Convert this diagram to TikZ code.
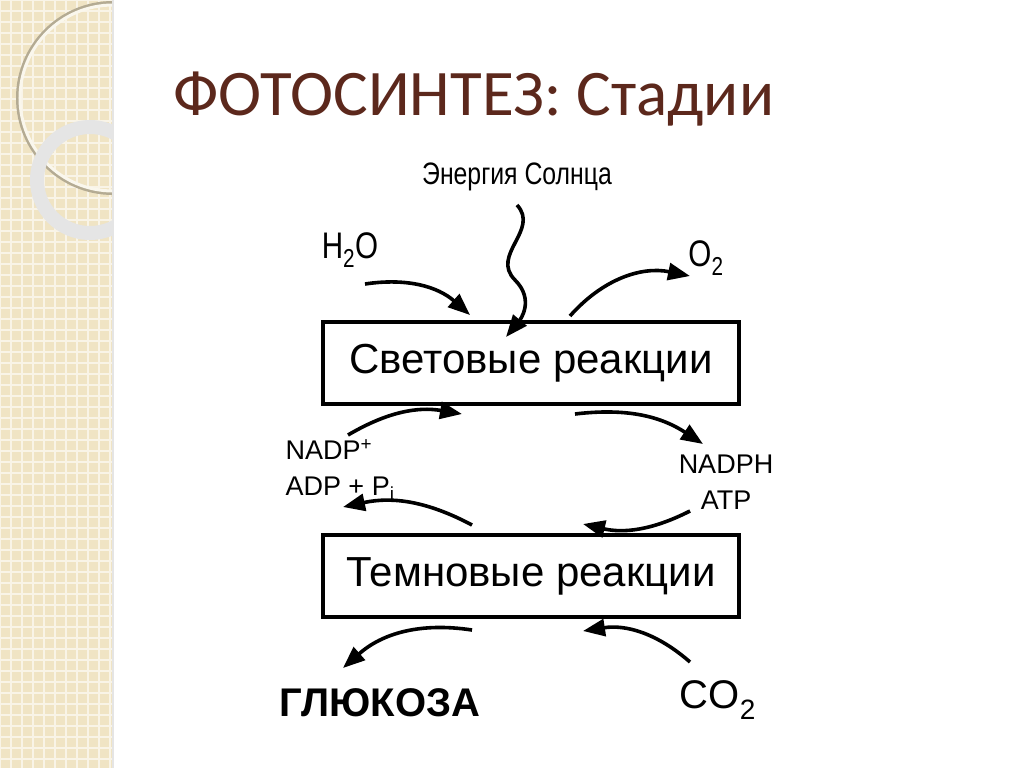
\documentclass[tikz,border=0pt]{standalone}
\usepackage{fontspec}
\setmainfont{Liberation Sans}
\newfontfamily\titlefont{Carlito}
\usetikzlibrary{arrows.meta}
\definecolor{beige}{RGB}{240,228,196}
\definecolor{titlebrown}{RGB}{92,40,28}
\tikzset{
    stage/.style={draw, line width=3.6pt, minimum width=416pt, minimum height=82pt, font=\fontsize{42}{42}\selectfont},
    chem/.style={font=\fontsize{37}{37}\selectfont\addfontfeature{FakeStretch=0.8}},
    small/.style={font=\fontsize{27}{36}\selectfont, align=left},
    flow/.style={line width=3.6pt, -{Triangle[length=22pt, width=17pt]}}
}
\begin{document}
\begin{tikzpicture}[x=1pt, y=-1pt]
    \useasboundingbox (0,0) rectangle (1024,768);
    % decorative strip
    \fill[beige] (0,0) rectangle (112,768);
    \foreach \i in {0,11,...,112} \draw[white!60!beige, line width=1.5pt] (\i,0) -- (\i,768);
    \foreach \j in {0,11,...,768} \draw[white!60!beige, line width=1.5pt] (0,\j) -- (112,\j);
    \begin{scope}
        \clip (0,0) rectangle (112,768);
        \draw[black!25!beige, line width=4pt] (113,98) circle (95);
        \draw[white!70!beige, line width=3pt] (113,98) circle (93);
        \draw[white!80!gray, line width=14pt] (90,180) circle (53);
    \end{scope}
    \draw[black!10, line width=2pt] (113,0) -- (113,768);
    % title
    \node[anchor=base west, text=titlebrown, font=\titlefont\fontsize{65}{65}\selectfont] (title) at (170,115) {ФОТОСИНТЕЗ: Стадии};
    % boxes
    \node[stage] (light) at (531,363) {Световые реакции};
    \node[stage] (dark) at (531,576) {Темновые реакции};
    % labels
    \node[font=\fontsize{31}{31}\selectfont\addfontfeature{FakeStretch=0.8}] (sun) at (517,177) {Энергия Солнца};
    \node[chem] (water) at (350,250) {H\textsubscript{2}O};
    \node[chem] (oxygen) at (706,258) {O\textsubscript{2}};
    \node[small] (nadp) at (340,470) {NADP\textsuperscript{+}\\ADP + P\textsubscript{i}};
    \node[small, align=center] (nadph) at (726,482) {NADPH\\ATP};
    \node[font=\fontsize{40}{40}\selectfont\bfseries] (glucose) at (380,703) {ГЛЮКОЗА};
    \node[font=\fontsize{40}{40}\selectfont] (co2) at (718,700) {CO\textsubscript{2}};
    % connector ends
    \coordinate (w1) at (365,284); \coordinate (w2) at (470,315);
    \coordinate (s1) at (517,205); \coordinate (s2) at (506,337);
    \coordinate (o1) at (570,316); \coordinate (o2) at (690,276);
    \coordinate (a1) at (348,435); \coordinate (a2) at (462,414);
    \coordinate (b1) at (575,414); \coordinate (b2) at (703,444);
    \coordinate (c1) at (690,511); \coordinate (c2) at (583,524);
    \coordinate (d1) at (472,525); \coordinate (d2) at (343,507);
    \coordinate (e1) at (472,630); \coordinate (e2) at (343,668);
    \coordinate (f1) at (690,662); \coordinate (f2) at (583,631);
    % arrows
    \draw[flow] (w1) to[bend left=25] (w2);
    \draw[flow] (s1) .. controls (540,230) and (490,255) .. (515,280) .. controls (535,300) and (520,320) .. (s2);
    \draw[flow] (o1) to[bend left=30] (o2);
    \draw[flow] (a1) to[bend left=20] (a2);
    \draw[flow] (b1) to[bend left=20] (b2);
    \draw[flow] (c1) to[bend left=20] (c2);
    \draw[flow] (d1) to[bend right=20] (d2);
    \draw[flow] (e1) to[bend right=25] (e2);
    \draw[flow] (f1) to[bend right=25] (f2);
\end{tikzpicture}
\end{document}
